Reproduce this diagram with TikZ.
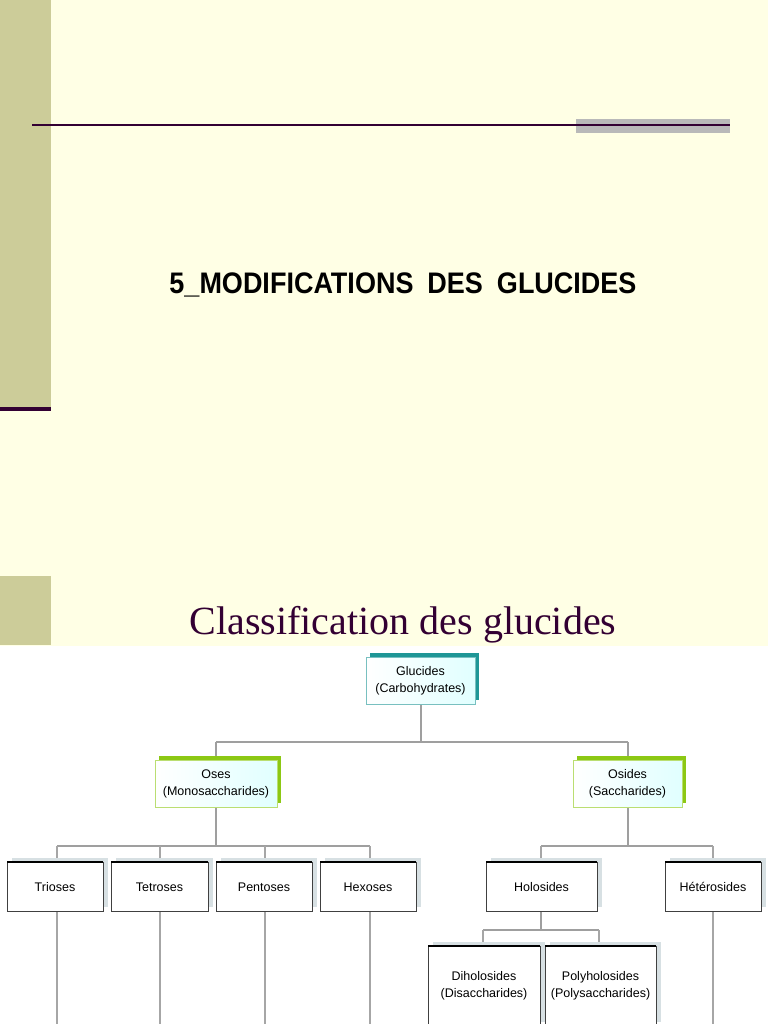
\documentclass[tikz,border=0pt]{standalone}
\usepackage{fontspec}
\setmainfont{Liberation Serif}
\newfontfamily\arial{Liberation Sans}
\definecolor{khaki}{RGB}{204,204,153}
\definecolor{cream}{RGB}{255,255,229}
\definecolor{plum}{RGB}{51,0,51}
\definecolor{lgreen}{RGB}{140,200,20}
\definecolor{tealc}{RGB}{30,150,150}
\begin{document}
\begin{tikzpicture}[x=1pt,y=-1pt,
  lbl/.style={font=\arial\fontsize{12.5}{15}\selectfont, align=center, inner sep=0pt},
  conn/.style={draw=gray!75, line width=2.4pt},
  thin/.style={draw=gray!70, line width=1.5pt}]
\useasboundingbox (0,0) rectangle (768,1024);
\fill[cream] (0,0) rectangle (768,646);
\fill[white] (0,646) rectangle (768,1024);
\fill[khaki] (0,0) rectangle (51,408);
\fill[khaki] (0,576) rectangle (51,645);
\fill[plum] (0,407) rectangle (51,411);
\fill[gray!55] (576,119) rectangle (730,133);
\draw[plum, line width=1.4pt] (32,125) -- (730,125);
\node[font=\arial\bfseries\fontsize{27}{32}\selectfont, yscale=1.1] (t1) at (403,285) {5\_MODIFICATIONS\hspace{14pt}DES\hspace{14pt}GLUCIDES};
\node[font=\fontsize{40}{46}\selectfont, text=plum] (t2) at (403,625) {Classification des glucides};
\newcommand{\gbox}[7]{%
  \fill[#6] (#2+4,#3-4) rectangle (#4+4,#5-4);
  \shade[left color=white, right color=cyan!12, draw=#6!60, line width=0.8pt] (#2,#3) rectangle (#4,#5);
  \node[lbl] (#1) at ({(#2+#4)/2},{(#3+#5)/2}) {#7};}
\newcommand{\wbox}[6]{%
  \fill[cyan!20!gray!30] (#2+5,#3-4) rectangle (#4+5,#5-4);
  \draw[fill=white, draw=black!75, line width=0.9pt] (#2,#3) rectangle (#4,#5);
  \draw[black, line width=1.6pt] (#2,#3) -- (#4,#3);
  \node[lbl] (#1) at ({(#2+#4)/2},{(#3+#5)/2}) {\vphantom{Hé}#6};}
\draw[conn] (421,705) -- (421,742);
\draw[conn] (216,742) -- (628,742);
\draw[conn] (216,742) -- (216,758);
\draw[conn] (628,742) -- (628,758);
\draw[conn] (216,807) -- (216,846);
\draw[conn] (57,846) -- (370,846);
\foreach \x in {57,160,265,370}{\draw[thin] (\x,846) -- (\x,862); \draw[thin] (\x,911) -- (\x,1024);}
\draw[conn] (628,807) -- (628,846);
\draw[conn] (541,846) -- (713,846);
\draw[thin] (541,846) -- (541,862);
\draw[thin] (713,846) -- (713,862);
\draw[thin] (713,911) -- (713,1024);
\draw[conn] (541,911) -- (541,930);
\draw[conn] (483,930) -- (599,930);
\draw[thin] (483,930) -- (483,946);
\draw[thin] (599,930) -- (599,946);
\gbox{g}{366}{657}{475}{704}{tealc}{Glucides\\[2pt](Carbohydrates)}
\gbox{os}{155}{760}{277}{807}{lgreen}{Oses\\[2pt](Monosaccharides)}
\gbox{osd}{573}{760}{682}{807}{lgreen}{Osides\\[2pt](Saccharides)}
\wbox{tr}{7}{862}{103}{911}{Trioses}
\wbox{te}{111}{862}{208}{911}{Tetroses}
\wbox{pe}{216}{862}{312}{911}{Pentoses}
\wbox{he}{320}{862}{416}{911}{Hexoses}
\wbox{ho}{486}{862}{597}{911}{Holosides}
\wbox{ht}{665}{862}{761}{911}{Hétérosides}
\wbox{di}{428}{946}{540}{1026}{Diholosides\\[2pt](Disaccharides)}
\wbox{po}{545}{946}{656}{1026}{Polyholosides\\[2pt](Polysaccharides)}
\end{tikzpicture}
\end{document}
